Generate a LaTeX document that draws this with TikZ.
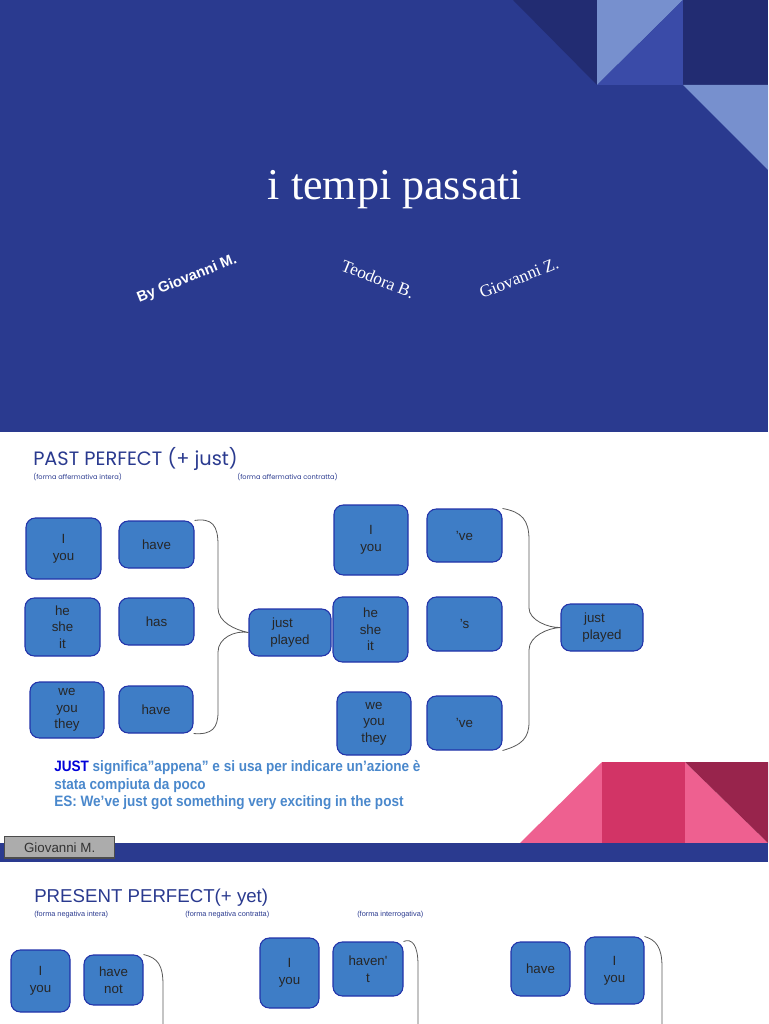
\documentclass[tikz,border=0pt]{standalone}
\usepackage{fontspec}
\setmainfont{Liberation Serif}
\newfontfamily\rob{Liberation Sans}
\newfontfamily\quick{Poppins}
\newfontfamily\robn[FakeStretch=0.9]{Liberation Sans}
\definecolor{navy}{HTML}{2A3A8F}
\definecolor{darknavy}{HTML}{222C72}
\definecolor{lightblue}{HTML}{7790CE}
\definecolor{midblue}{HTML}{3A4BA8}
\definecolor{boxblue}{HTML}{3E7DC6}
\definecolor{boxedge}{HTML}{2233AA}
\definecolor{pinkA}{HTML}{EE6090}
\definecolor{pinkB}{HTML}{D23466}
\definecolor{pinkC}{HTML}{98244C}
\definecolor{textblue}{HTML}{4A88CC}
\tikzset{
 box/.style={draw=boxedge,fill=boxblue,rounded corners=7pt,line width=0.8pt,align=center,inner sep=0pt,font=\rob\fontsize{10}{12.5}\selectfont,text=black!85},
 brace/.style={draw=gray!70!black,line width=0.6pt},
 rotlab/.style={text=white,font=\fontsize{13}{15}\selectfont}
}
\newcommand{\bx}[6]{\node[box,minimum width={(#4-#2)*0.75pt},minimum height={(#5-#3)*0.75pt}] (#1) at ({(#2+#4)/2},{(#3+#5)/2}) {#6};}
\begin{document}
\begin{tikzpicture}[x=0.75pt,y=-0.75pt]
\useasboundingbox (0,0) rectangle (768,1024);
% top slide
\fill[navy] (0,0) rectangle (768,432);
\fill[darknavy] (513,0) -- (597,0) -- (597,85) -- cycle;
\fill[lightblue] (597,0) -- (683,0) -- (597,85) -- cycle;
\fill[midblue] (683,0) -- (683,85) -- (597,85) -- cycle;
\fill[darknavy] (683,0) rectangle (768,85);
\fill[lightblue] (683,85) -- (768,85) -- (768,170) -- cycle;
\node[text=white,font=\fontsize{33}{36}\selectfont] (title) at (395,190) {i tempi passati};
\node[rotlab,rotate=22,font=\rob\bfseries\fontsize{11}{13}\selectfont] (by) at (187,279) {By Giovanni M.};
\node[rotlab,rotate=-22] (teo) at (378,279) {Teodora B.};
\node[rotlab,rotate=22] (gz) at (519,278) {Giovanni Z.};
% second slide
\fill[white] (0,432) rectangle (768,843);
\node[anchor=west,text=navy,font=\quick\fontsize{14.5}{16}\selectfont,inner sep=0] (pp) at (33,459) {PAST PERFECT (+ just)};
\node[anchor=west,text=navy,font=\quick\fontsize{5}{6}\selectfont,inner sep=0] (f1) at (33,477) {(forma affermativa intera)};
\node[anchor=west,text=navy,font=\quick\fontsize{5}{6}\selectfont,inner sep=0] (f2) at (237,477) {(forma affermativa contratta)};
\bx{a1}{26}{518}{101}{579}{I\\you}
\bx{a2}{25}{598}{100}{656}{he\\she\\it}
\bx{a3}{30}{682}{104}{738}{we\\you\\they}
\bx{h1}{119}{521}{194}{568}{have}
\bx{h2}{119}{598}{194}{645}{has}
\bx{h3}{119}{686}{193}{733}{have}
\bx{j1}{249}{609}{331}{656}{\hspace*{-4mm}just\\played}
\bx{b1}{334}{505}{408}{575}{I\\you}
\bx{b2}{333}{597}{408}{662}{he\\she\\it}
\bx{b3}{337}{692}{411}{755}{we\\you\\they}
\bx{v1}{427}{509}{502}{562}{\textquoteright ve}
\bx{v2}{427}{597}{502}{651}{\textquoteright s}
\bx{v3}{427}{696}{502}{750}{\textquoteright ve}
\bx{j2}{561}{604}{643}{651}{\hspace*{-4mm}just\\played}
\draw[brace] (h1.north east) .. controls (212,518) and (218,525) .. (218,545) -- (218,608) .. controls (218,622) and (235,630) .. (j1.west) .. controls (235,630) and (218,638) .. (218,652) -- (218,712) .. controls (218,728) and (212,735) .. (h3.south east);
\draw[brace] (v1.north east) .. controls (522,512) and (529,520) .. (529,540) -- (529,608) .. controls (529,620) and (548,628) .. (j2.west) .. controls (548,628) and (529,636) .. (529,650) -- (529,722) .. controls (529,738) and (522,745) .. (v3.south east);
\node[anchor=north west,align=left,inner sep=0,font=\robn\bfseries\fontsize{11.3}{13.3}\selectfont,text=textblue] (jt) at (54,760) {\textcolor{blue!85!black}{JUST} significa\textquotedblright appena\textquotedblright{} e si usa per indicare un\textquoteright azione è\\stata compiuta da poco\\ES: We\textquoteright ve just got something very exciting in the post};
\fill[pinkA] (520,843) -- (602,762) -- (602,843) -- cycle;
\fill[pinkB] (602,762) rectangle (685,843);
\fill[pinkA] (685,762) -- (768,843) -- (685,843) -- cycle;
\fill[pinkC] (685,762) -- (768,762) -- (768,843) -- cycle;
\fill[navy] (0,843) rectangle (768,862);
\node[draw=black!70,line width=1pt,fill=gray!65,anchor=north west,minimum width=82.5pt,minimum height=16pt,inner sep=2pt,font=\rob\fontsize{10}{12}\selectfont,text=black!80] (gm) at (4,836) {Giovanni M.};
% third slide
\node[anchor=west,text=navy,font=\rob\fontsize{14}{16}\selectfont,inner sep=0] (pr) at (34,898) {PRESENT PERFECT(+ yet)};
\node[anchor=west,text=navy,font=\rob\fontsize{5.5}{6}\selectfont,inner sep=0] (g1) at (34,915) {(forma negativa intera)};
\node[anchor=west,text=navy,font=\rob\fontsize{5.5}{6}\selectfont,inner sep=0] (g2) at (185,915) {(forma negativa contratta)};
\node[anchor=west,text=navy,font=\rob\fontsize{5.5}{6}\selectfont,inner sep=0] (g3) at (357,915) {(forma interrogativa)};
\bx{c1}{11}{950}{70}{1012}{I\\you}
\bx{c2}{84}{955}{143}{1005}{have\\not}
\bx{d1}{260}{938}{319}{1008}{I\\you}
\bx{d2}{333}{942}{403}{996}{haven'\\t}
\bx{e1}{511}{942}{570}{996}{have}
\bx{e2}{585}{937}{644}{1004}{I\\you}
\coordinate (c3) at (163,1024);
\coordinate (d3) at (418,1024);
\coordinate (e3) at (662,1024);
\draw[brace] (c2.north east) .. controls (158,958) and (163,965) .. (163,985) -- (c3);
\draw[brace] (d2.north east) .. controls (412,938) and (418,945) .. (418,965) -- (d3);
\draw[brace] (e2.north east) .. controls (656,940) and (662,947) .. (662,967) -- (e3);
\end{tikzpicture}
\end{document}
